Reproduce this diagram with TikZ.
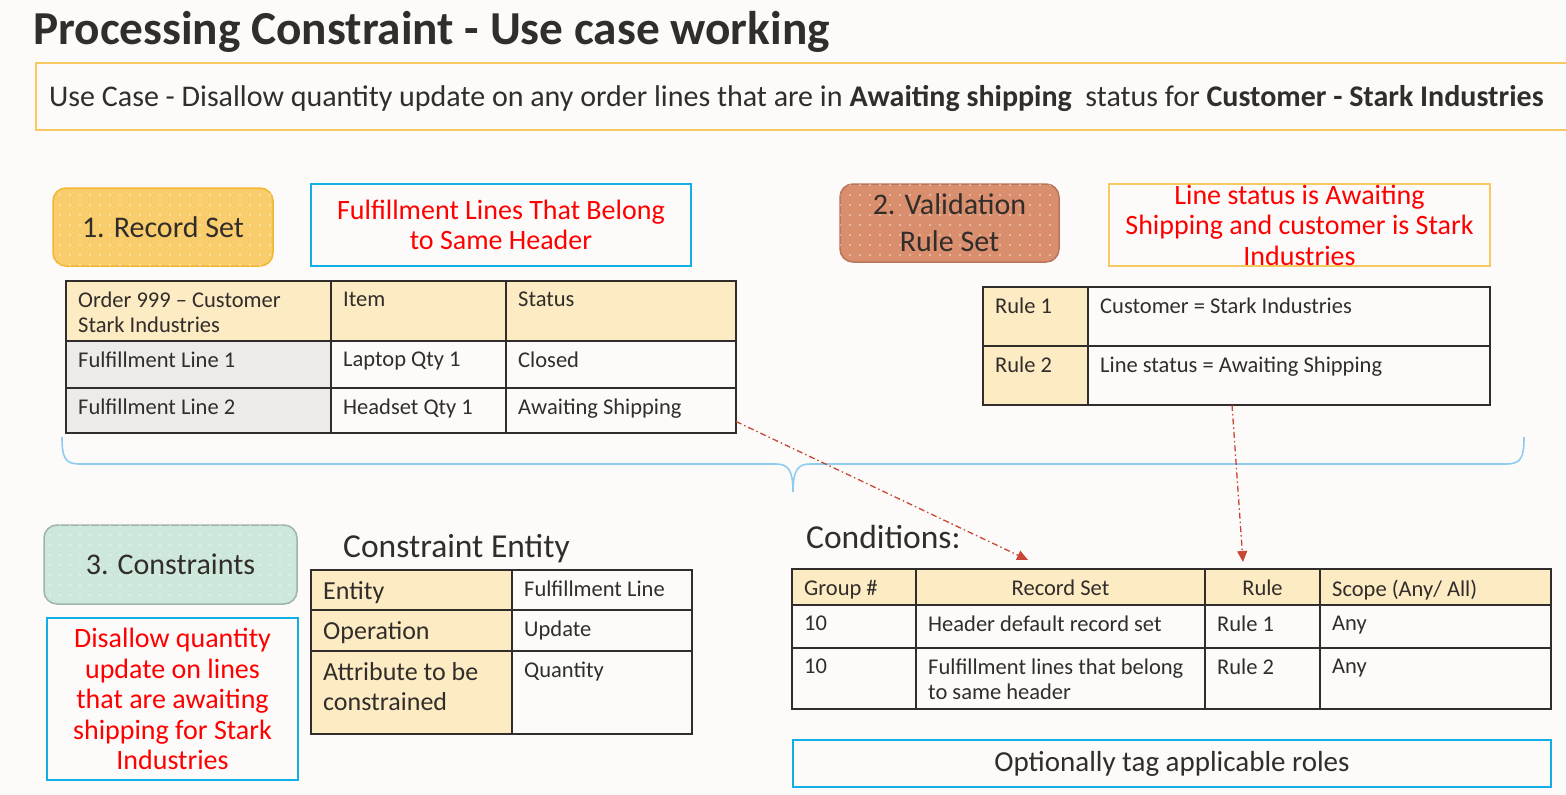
\documentclass[tikz,border=0pt]{standalone}
\usepackage{fontspec}
\setmainfont{Carlito}
\usetikzlibrary{arrows.meta, positioning, patterns.meta}
\definecolor{cbg}{HTML}{FCFBFA}
\definecolor{cink}{HTML}{312D2A}
\definecolor{cgold}{HTML}{F9CD6B}
\definecolor{cgoldline}{HTML}{F2B632}
\definecolor{cclay}{HTML}{D98E6E}
\definecolor{cclayline}{HTML}{B9745A}
\definecolor{cmint}{HTML}{CDE8DA}
\definecolor{cmintline}{HTML}{9DB5A8}
\definecolor{ccyan}{HTML}{12AEE8}
\definecolor{cyellow}{HTML}{F8C961}
\definecolor{chead}{HTML}{FCEBC3}
\definecolor{cside}{HTML}{EDEBEA}
\definecolor{cbrace}{HTML}{8FCDF0}
\definecolor{cred}{HTML}{C74634}
\tikzset{
  title/.style={anchor=base west, inner sep=0pt, text=cink, font=\fontsize{47.3}{52}\selectfont\bfseries},
  heading/.style={anchor=base west, inner sep=0pt, text=cink, font=\fontsize{33.5}{38}\selectfont},
  stage/.style={fill=#1, draw=#1line, line width=1.5pt, rounded corners=13pt, align=center, text=cink,
    font=\fontsize{30}{37}\selectfont, postaction={pattern={Dots[distance=10pt, radius=0.8pt]}, pattern color=white!70!#1}},
  redtext/.style={text=red, align=center, font=\fontsize{28}{30.5}\selectfont},
  note/.style={draw=#1, line width=2pt, inner sep=0pt, redtext},
  sz/.style 2 args={minimum width=#1pt, minimum height=#2pt},
  cell/.style={draw=cink, line width=2pt, anchor=north west, inner sep=0pt, outer sep=0pt},
  hd/.style={fill=chead},
  side/.style={fill=cside},
  cellfont/.style={inner sep=0pt, align=left, text=cink, font=\fontsize{22.5}{25}\selectfont},
  txt/.style={label={[cellfont, anchor=north west, xshift=12pt, yshift=-11pt]north west:#1}},
  ctxt/.style={label={[cellfont, anchor=north, yshift=-11pt]north:#1}},
  bigtxt/.style={label={[cellfont, font=\fontsize{26}{30}\selectfont, anchor=north west, xshift=12pt, yshift=-11pt]north west:#1}},
  flow/.style={draw=cred, line width=1.3pt, dash pattern=on 6pt off 3pt on 1.5pt off 3pt, -{Triangle[length=11pt, width=10pt]}},
  brace/.style={draw=cbrace, line width=1.6pt},
}
\begin{document}
\begin{tikzpicture}[x=1pt, y=-1pt]
  \useasboundingbox[fill=cbg] (0,0) rectangle (1566,795);
  % title and use case
  \node[title] (title) at (33,44) {Processing Constraint - Use case working};
  \node[minimum width=1530pt, minimum height=67pt, anchor=north west, inner sep=0pt] (ucbox) at (36,63) {};
  \draw[draw=cyellow, line width=2pt] (ucbox.north east) -- (ucbox.north west) -- (ucbox.south west) -- (ucbox.south east);
  \node[anchor=base west, inner sep=0pt, text=cink, font=\fontsize{30}{34}\selectfont] (uctext) at (49,106)
    {Use Case - Disallow quantity update on any order lines that are in \textbf{Awaiting shipping}\ \ status for \textbf{Customer - Stark Industries}};

  % 1. record set
  \node[stage=cgold, sz={220}{78}] (recset) at (163,227) {1. Record Set};
  \node[note=ccyan, sz={380}{82}] (rsnote) at (501,225) {Fulfillment Lines That Belong\\to Same Header};
  \node[cell, hd, sz={265}{60}, txt={Order 999 -- Customer\\Stark Industries}] (rs11) at (66,281) {};
  \node[cell, hd, sz={175}{60}, txt=Item, right=0pt of rs11] (rs12) {};
  \node[cell, hd, sz={230}{60}, txt=Status, right=0pt of rs12] (rs13) {};
  \node[cell, side, sz={265}{47}, txt=Fulfillment Line 1, below=0pt of rs11] (rs21) {};
  \node[cell, sz={175}{47}, txt=Laptop Qty 1, right=0pt of rs21] (rs22) {};
  \node[cell, sz={230}{47}, txt=Closed, right=0pt of rs22] (rs23) {};
  \node[cell, side, sz={265}{45}, txt=Fulfillment Line 2, below=0pt of rs21] (rs31) {};
  \node[cell, sz={175}{45}, txt=Headset Qty 1, right=0pt of rs31] (rs32) {};
  \node[cell, sz={230}{45}, txt=Awaiting Shipping, right=0pt of rs32] (rs33) {};

  % 2. validation rule set
  \node[stage=cclay, sz={219}{78}] (valid) at (949.5,223) {2. Validation\\Rule Set};
  \node[note=cyellow, sz={381}{82}] (vrnote) at (1299.5,225) {};
  \node[redtext] (vrnotetext) at (vrnote.center) {Line status is Awaiting\\Shipping and customer is Stark\\Industries};
  \node[cell, hd, sz={105}{59}, txt=Rule 1] (vr11) at (983,287) {};
  \node[cell, sz={402}{59}, txt={Customer = Stark Industries}, right=0pt of vr11] (vr12) {};
  \node[cell, hd, sz={105}{59}, txt=Rule 2, below=0pt of vr11] (vr21) {};
  \node[cell, sz={402}{59}, txt={Line status = Awaiting Shipping}, right=0pt of vr21] (vr22) {};

  % brace under steps 1 and 2
  \draw[brace] (62,437) .. controls (62,458) and (65,464) .. (80,464) -- (776,464)
    .. controls (788,464) and (793,470) .. (793,492) .. controls (793,470) and (798,464) .. (810,464)
    -- (1506,464) .. controls (1521,464) and (1524,458) .. (1524,437);

  % 3. constraints
  \node[stage=cmint, sz={253}{79}] (constr) at (170.5,564.5) {3. Constraints};
  \node[note=ccyan, sz={251}{162}] (cnote) at (172.5,699) {Disallow quantity\\update on lines\\that are awaiting\\shipping for Stark\\Industries};
  \node[heading] (cehead) at (343,557) {Constraint Entity};
  \node[cell, hd, sz={201}{40}, bigtxt=Entity] (ce11) at (311,570) {};
  \node[cell, sz={180}{40}, txt=Fulfillment Line, right=0pt of ce11] (ce12) {};
  \node[cell, hd, sz={201}{41}, bigtxt=Operation, below=0pt of ce11] (ce21) {};
  \node[cell, sz={180}{41}, txt=Update, right=0pt of ce21] (ce22) {};
  \node[cell, hd, sz={201}{83}, bigtxt={Attribute to be\\constrained}, below=0pt of ce21] (ce31) {};
  \node[cell, sz={180}{83}, txt=Quantity, right=0pt of ce31] (ce32) {};

  % conditions
  \node[heading] (cdhead) at (806,548) {Conditions:};
  \node[cell, hd, sz={124}{36}, txt=Group \#] (cd11) at (792,569) {};
  \node[cell, hd, sz={289}{36}, ctxt=Record Set, right=0pt of cd11] (cd12) {};
  \node[cell, hd, sz={115}{36}, ctxt=Rule, right=0pt of cd12] (cd13) {};
  \node[cell, hd, sz={231}{36}, txt={Scope (Any/ All)}, right=0pt of cd13] (cd14) {};
  \node[cell, sz={124}{43}, txt=10, below=0pt of cd11] (cd21) {};
  \node[cell, sz={289}{43}, txt=Header default record set, right=0pt of cd21] (cd22) {};
  \node[cell, sz={115}{43}, txt=Rule 1, right=0pt of cd22] (cd23) {};
  \node[cell, sz={231}{43}, txt=Any, right=0pt of cd23] (cd24) {};
  \node[cell, sz={124}{61}, txt=10, below=0pt of cd21] (cd31) {};
  \node[cell, sz={289}{61}, txt={Fulfillment lines that belong\\to same header}, right=0pt of cd31] (cd32) {};
  \node[cell, sz={115}{61}, txt=Rule 2, right=0pt of cd32] (cd33) {};
  \node[cell, sz={231}{61}, txt=Any, right=0pt of cd33] (cd34) {};
  \node[note=ccyan, sz={758}{47}, text=cink, font=\fontsize{29}{34}\selectfont] (roles) at (1172,763.5) {Optionally tag applicable roles};

  % links into the conditions table
  \coordinate (rsin) at (1028,560);
  \coordinate (rulein) at (1243,562);
  \draw[flow] ([yshift=-11pt]rs33.east) -- (rsin);
  \draw[flow] ([xshift=-57pt]vr22.south) -- (rulein);
\end{tikzpicture}
\end{document}
